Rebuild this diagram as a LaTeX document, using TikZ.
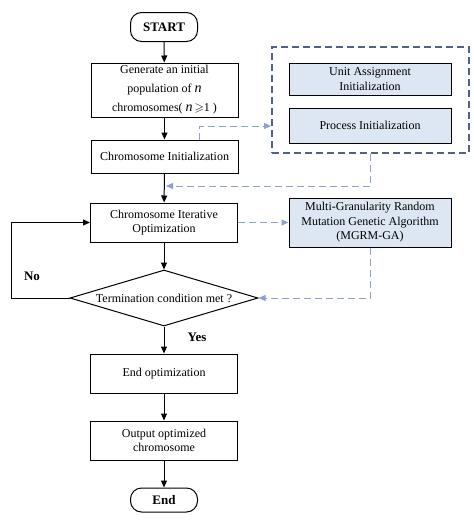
\documentclass[tikz,border=0pt]{standalone}
\usepackage{amssymb}
\usepackage{fontspec}
\setmainfont{Liberation Serif}
\usetikzlibrary{arrows.meta,shapes.geometric}
\definecolor{boxfill}{RGB}{221,231,243}
\definecolor{dashcol}{RGB}{140,162,200}
\definecolor{contcol}{RGB}{78,98,138}
\newcommand{\bign}{{\fontsize{14}{19}\selectfont\itshape n}}
\begin{document}
\begin{tikzpicture}[x=1pt,y=-1pt,
  every node/.style={font=\fontsize{12}{14.5}\selectfont},
  proc/.style={draw=black,line width=1pt,inner sep=0pt,align=center,minimum width=147pt},
  term/.style={draw=black,line width=1pt,inner sep=0pt,rounded corners=11pt,minimum width=67pt,font=\fontsize{13}{15}\selectfont\bfseries},
  bluebox/.style={draw=black,line width=1pt,fill=boxfill,inner sep=0pt,align=center,minimum width=162pt},
  flow/.style={line width=1pt,-{Triangle[length=7pt,width=6pt]}},
  dflow/.style={dashcol,line width=1pt,dash pattern=on 7pt off 4pt,-{Triangle[length=7pt,width=6pt]}},
  lbl/.style={font=\fontsize{13}{15}\selectfont\bfseries}]
\useasboundingbox (0,0) rectangle (474,525);
\node[term,minimum height=29pt] (start) at (164,27) {START};
\node[proc,minimum height=54pt,font=\fontsize{12}{19}\selectfont] (gen) at (164.5,90) {Generate an initial\\population of \bign\\chromosomes( \bign\,$\geqslant$1 )};
\node[proc,minimum height=33pt] (ci) at (164.5,156.5) {Chromosome Initialization};
\node[proc,minimum height=39pt] (iter) at (164,222.5) {Chromosome Iterative\\Optimization};
\node[draw=black,line width=1pt,diamond,aspect=3.36,inner sep=0pt,minimum width=188pt,minimum height=56pt] (dia) at (164,298) {};
\node at (dia.center) {Termination condition met ?};
\node[proc,minimum height=39pt] (eo) at (164,373.5) {End optimization};
\node[proc,minimum height=39pt] (out) at (164,440.5) {Output optimized\\chromosome};
\node[term,minimum height=24pt] (end) at (164,500) {End};
\node[draw=contcol,line width=2pt,dash pattern=on 7pt off 4pt,minimum width=197pt,minimum height=106pt,inner sep=0pt] (cont) at (370.5,100) {};
\node[bluebox,minimum height=32pt] (unit) at (370,79) {Unit Assignment\\Initialization};
\node[bluebox,minimum height=35pt] (proc) at (370,125.5) {Process Initialization};
\node[bluebox,minimum height=49pt] (mgrm) at (370,222.5) {Multi-Granularity Random\\Mutation Genetic Algorithm\\(MGRM-GA)};
\node[lbl] (no) at (32,276) {No};
\node[lbl] (yes) at (197,337) {Yes};
\coordinate (c1) at (199,126);
\coordinate (j1) at (166,186);
\coordinate (lp) at (11,298);
\draw[flow] (start) -- (gen);
\draw[flow] (gen) -- (ci);
\draw[flow] (ci) -- (iter);
\draw[flow] (iter) -- (dia.north);
\draw[flow] (dia.south) -- (eo);
\draw[flow] (eo) -- (out);
\draw[flow] (out) -- (end);
\draw[flow] (dia.west) -- (lp) |- (iter.west);
\draw[dflow] (ci.north -| c1) -- (c1) -- (c1 -| cont.west);
\draw[dflow] (cont.south) |- (j1);
\draw[dflow] (iter.east) -- (mgrm.west);
\draw[dflow] (mgrm.south) |- (dia.east);
\end{tikzpicture}
\end{document}
